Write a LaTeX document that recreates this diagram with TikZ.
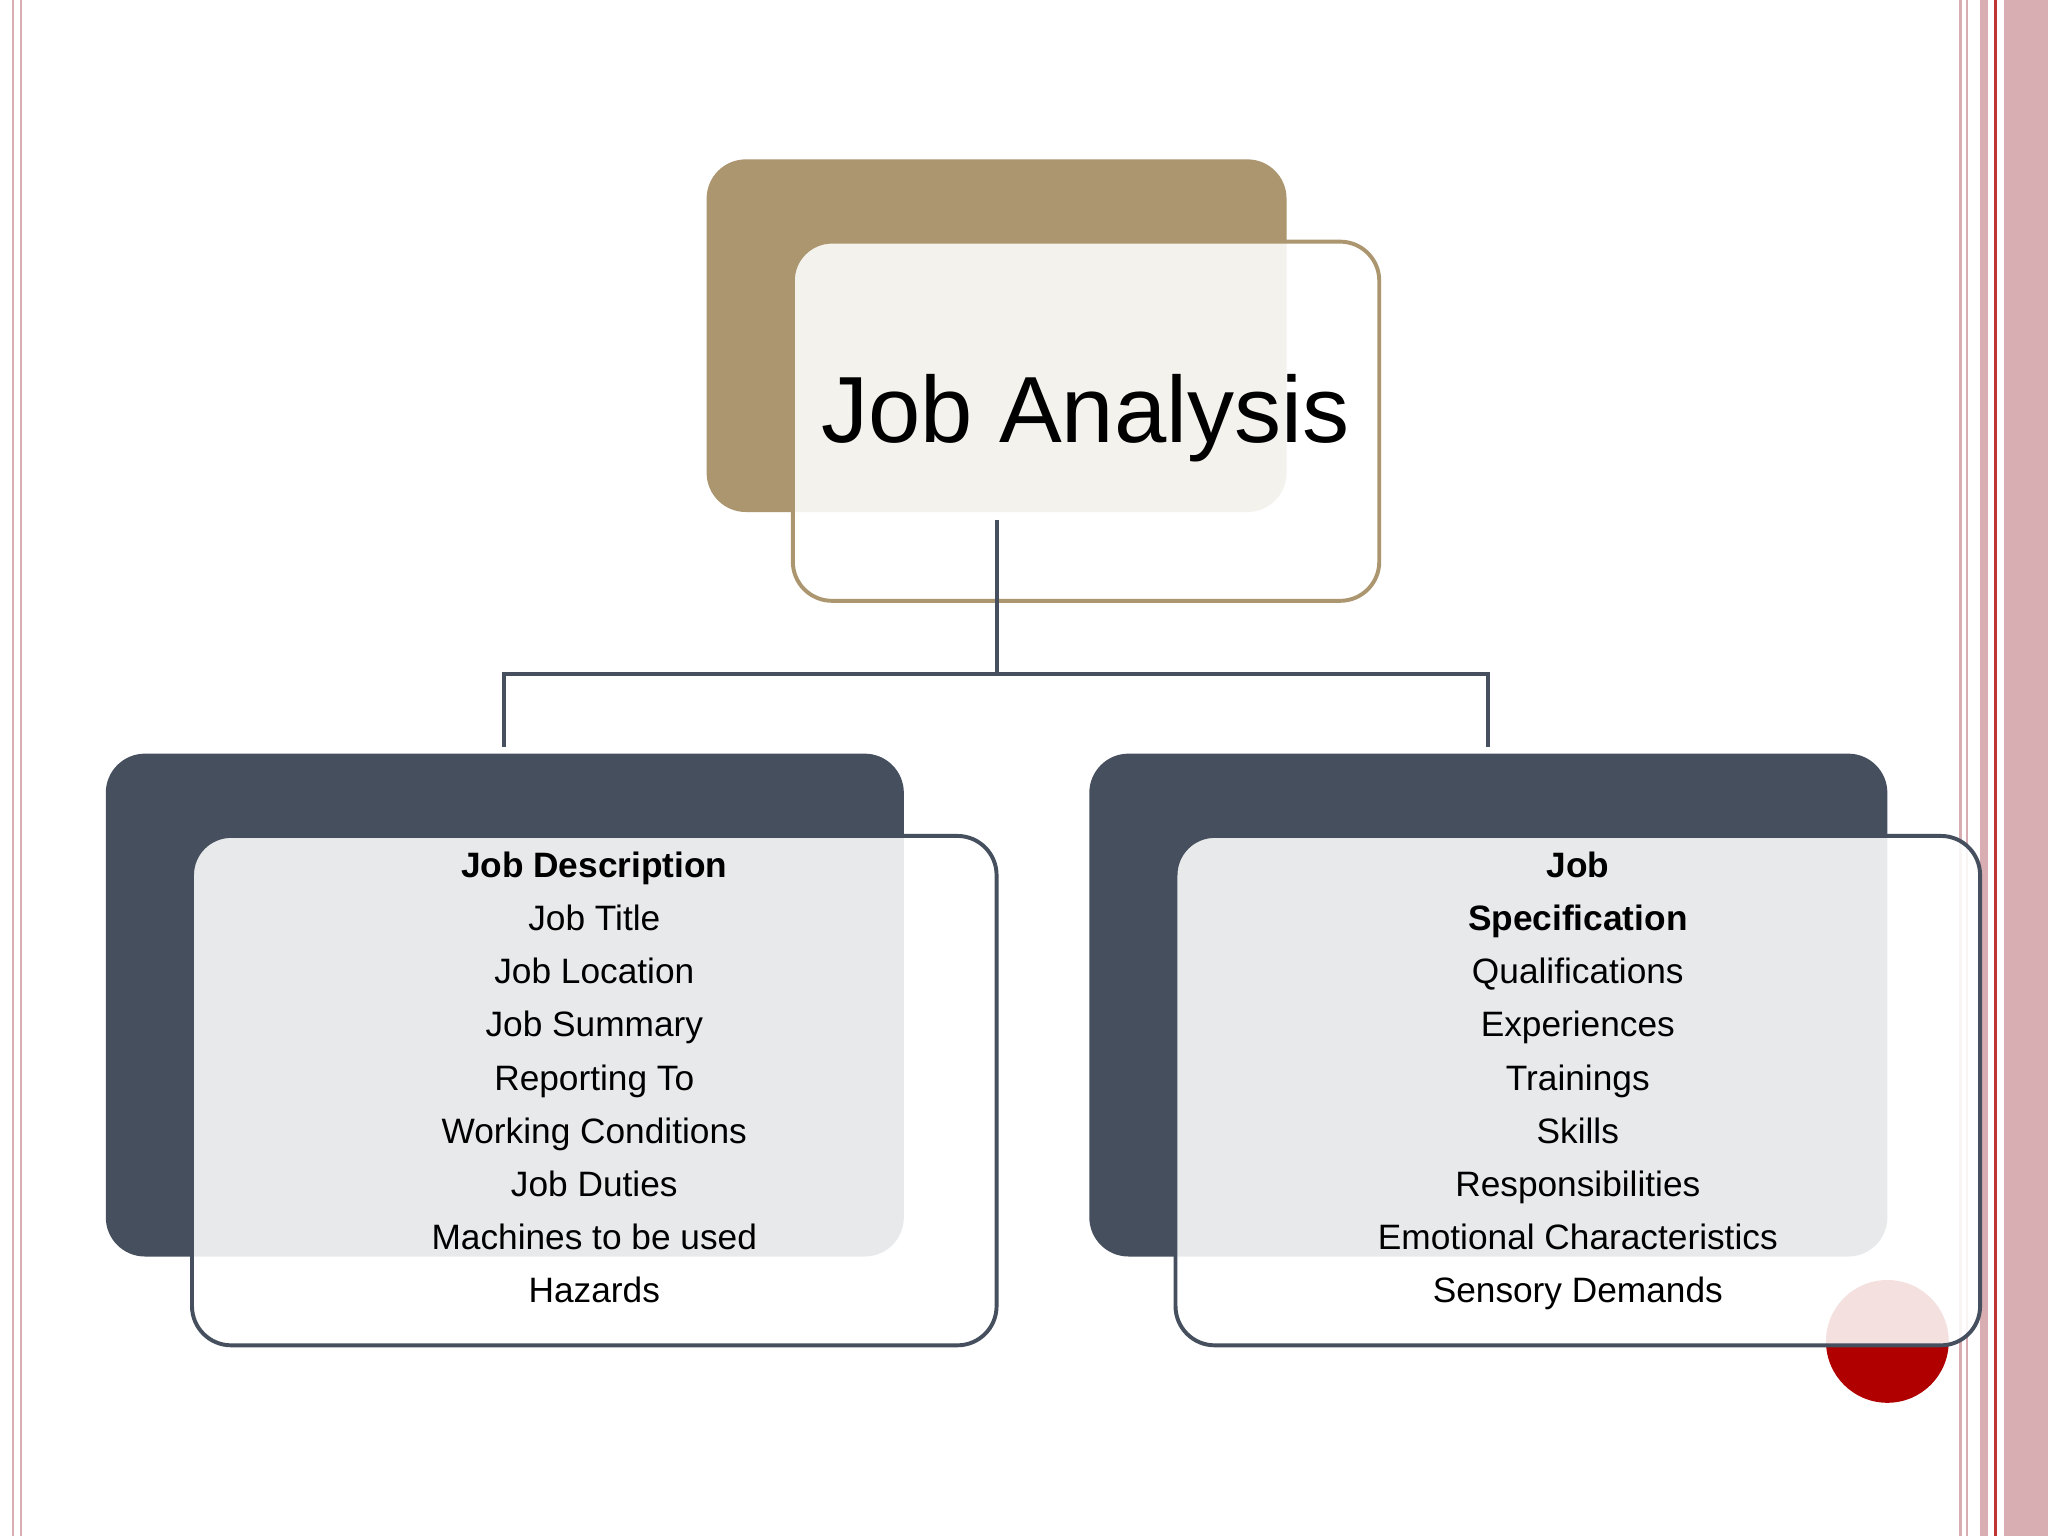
\documentclass[tikz,border=0pt]{standalone}
\usepackage{fontspec}
\setmainfont{Liberation Sans}
\definecolor{tan}{HTML}{AB9670}
\definecolor{slate}{HTML}{454F5E}
\definecolor{pinkb}{HTML}{D8AEB3}
\definecolor{redb}{HTML}{B00000}
\begin{document}
\begin{tikzpicture}[x=1pt,y=-1pt,
  back/.style={rounded corners=30pt},
  front/.style={rounded corners=30pt,line width=3pt,fill=white,fill opacity=0.88},
  body/.style={font=\fontsize{27}{40.7}\selectfont,align=center,anchor=north,inner sep=0pt}]
\useasboundingbox (0,0) rectangle (1568,1176);
\fill[white] (0,0) rectangle (1568,1176);
% borders
\draw[pinkb,line width=1.5pt] (10,0)--(10,1176) (16,0)--(16,1176);
\draw[pinkb,line width=2pt] (1501,0)--(1501,1176) (1506,0)--(1506,1176);
\fill[pinkb] (1516,0) rectangle (1522,1176);
\fill[pinkb] (1534,0) rectangle (1568,1176);
\draw[redb!80,line width=2pt] (1528,0)--(1528,1176);
% top
\fill[tan,back] (541,122) rectangle (985,392);
\draw[tan,front] (607,185) rectangle (1056,460);
\node (ja) at (831,320) {\fontsize{72}{80}\selectfont Job Analysis};
% connectors
\coordinate (c0) at (763,398);
\coordinate (cm) at (763,516);
\coordinate (cl) at (386,572);
\coordinate (cr) at (1139,572);
\draw[slate,line width=3pt] (c0)--(cm) (cl)|-(cm) (cr)|-(cm);
% left
\fill[slate,back] (81,577) rectangle (692,962);
\draw[slate,front] (147,640) rectangle (763,1030);
\node[body] (jd) at (455,652) {\textbf{Job Description}\\Job Title\\Job Location\\Job Summary\\Reporting To\\Working Conditions\\Job Duties\\Machines to be used\\Hazards};
% right
\fill[slate,back] (834,577) rectangle (1445,962);
\fill[redb] (1445,1027) circle (47);
\draw[slate,front] (900,640) rectangle (1516,1030);
\node[body] (js) at (1208,652) {\textbf{Job}\\\textbf{Specification}\\Qualifications\\Experiences\\Trainings\\Skills\\Responsibilities\\Emotional Characteristics\\Sensory Demands};
\end{tikzpicture}
\end{document}
